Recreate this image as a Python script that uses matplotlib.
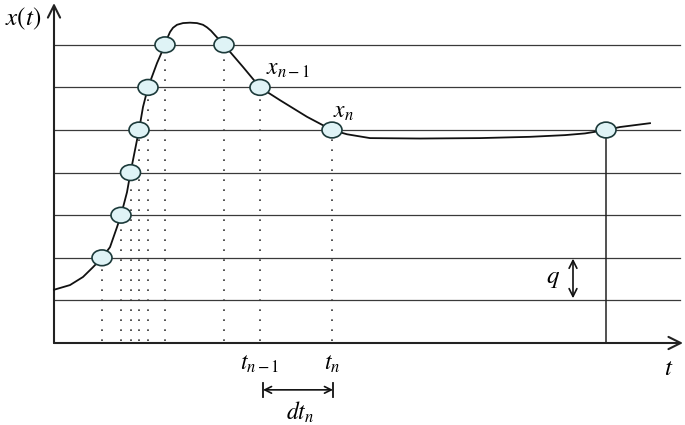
import matplotlib
matplotlib.use("Agg")
import matplotlib.pyplot as plt
from matplotlib.patches import Ellipse

plt.rcParams['mathtext.fontset'] = 'stix'
plt.rcParams['font.family'] = ['STIXGeneral', 'DejaVu Serif']

# ---- data (t in time units, x in quantisation levels q) ----
levels = [1, 2, 3, 4, 5, 6, 7]

curve_t = [0, 16, 29, 39, 48, 56, 63, 67, 73, 76.5, 81, 85, 89, 94, 103, 108,
           111, 113, 116, 119, 123, 129, 136, 143, 149, 153, 157, 162, 170,
           189, 206, 226, 253, 278, 293, 316, 366, 426, 476, 511, 531, 552,
           566, 596]
curve_x = [1.25, 1.36, 1.55, 1.78, 2.0, 2.25, 2.72, 3.0, 3.54, 4.0, 4.53, 5.0,
           5.54, 6.0, 6.57, 6.84, 7.0, 7.14, 7.30, 7.40, 7.47, 7.51, 7.52,
           7.51, 7.47, 7.41, 7.33, 7.20, 7.0, 6.48, 6.0, 5.70, 5.31, 5.0,
           4.90, 4.81, 4.80, 4.81, 4.84, 4.88, 4.92, 5.0, 5.07, 5.16]

# level-crossing samples
sample_t = [48, 67, 76.5, 85, 94, 111, 170, 206, 278, 552]
sample_x = [2, 3, 4, 5, 6, 7, 7, 6, 5, 5]

T_MAX = 626      # end of the level lines
ELL_W, ELL_H = 20, 0.37

fig = plt.figure(figsize=(6.85, 4.25), dpi=100)
ax = fig.add_axes([0, 0, 1, 1])
ax.set_xlim(-54, 631)
ax.set_ylim(-1.925, 8.052)
ax.axis('off')

# quantisation levels
for lv in levels:
    ax.plot([0, T_MAX], [lv, lv], color='#3a3a3a', lw=0.9, zorder=1)

# axes with open arrowheads
ax.annotate('', xy=(629, 0), xytext=(0, 0),
            arrowprops=dict(arrowstyle='->', lw=1.5, color='#222222',
                            mutation_scale=22, shrinkA=0, shrinkB=0))
ax.annotate('', xy=(0, 7.98), xytext=(0, 0),
            arrowprops=dict(arrowstyle='->', lw=1.5, color='#222222',
                            mutation_scale=22, shrinkA=0, shrinkB=0))

# signal
ax.plot(curve_t, curve_x, color='#111111', lw=1.3, zorder=3)

# dotted projections down to the time axis (solid for the last one)
for i, (st, sx) in enumerate(zip(sample_t, sample_x)):
    if i == len(sample_t) - 1:
        ax.plot([st, st], [0, sx], color='#222222', lw=1.1, zorder=2)
    else:
        ax.plot([st, st], [0.05, sx - ELL_H / 2], color='#333333', lw=1.2,
                linestyle=(0, (1, 5)), zorder=2)

# sample markers
for st, sx in zip(sample_t, sample_x):
    ax.add_patch(Ellipse((st, sx), ELL_W, ELL_H, facecolor='#dff3f6',
                         edgecolor='#1c3a3a', lw=1.2, zorder=4))

# labels
ax.text(-13, 7.6, r'$x(t)$', fontsize=18, ha='right', va='center')
ax.text(sample_t[7] + 6, 6.42, r'$x_{n-1}$', fontsize=17, ha='left', va='center')
ax.text(sample_t[8] + 1, 5.42, r'$x_n$', fontsize=17, ha='left', va='center')
ax.text(sample_t[7], -0.5, r'$t_{n-1}$', fontsize=17, ha='center', va='center')
ax.text(sample_t[8], -0.5, r'$t_n$', fontsize=17, ha='center', va='center')
ax.text(615, -0.6, r'$t$', fontsize=18, ha='center', va='center')

# dt_n arrow between t_{n-1} and t_n, with end bars
dt_y = -1.10
dt_a, dt_b = sample_t[7] + 3, sample_t[8] + 1
ax.annotate('', xy=(dt_b, dt_y), xytext=(dt_a, dt_y),
            arrowprops=dict(arrowstyle='<->', lw=1.2, color='#111111',
                            mutation_scale=12, shrinkA=0, shrinkB=0))
for xb in (dt_a, dt_b):
    ax.plot([xb, xb], [dt_y - 0.17, dt_y + 0.17], color='#111111', lw=1.3)
ax.text((dt_a + dt_b) / 2 + 2, -1.63, r'$dt_n$', fontsize=17,
        ha='center', va='center')

# q arrow between two levels
ax.annotate('', xy=(519, levels[1] - 0.02), xytext=(519, levels[0] + 0.05),
            arrowprops=dict(arrowstyle='<->', lw=1.2, color='#111111',
                            mutation_scale=14, shrinkA=0, shrinkB=0))
ax.text(499, 1.52, r'$q$', fontsize=18, ha='center', va='center')

fig.savefig('out.png', dpi=100)
